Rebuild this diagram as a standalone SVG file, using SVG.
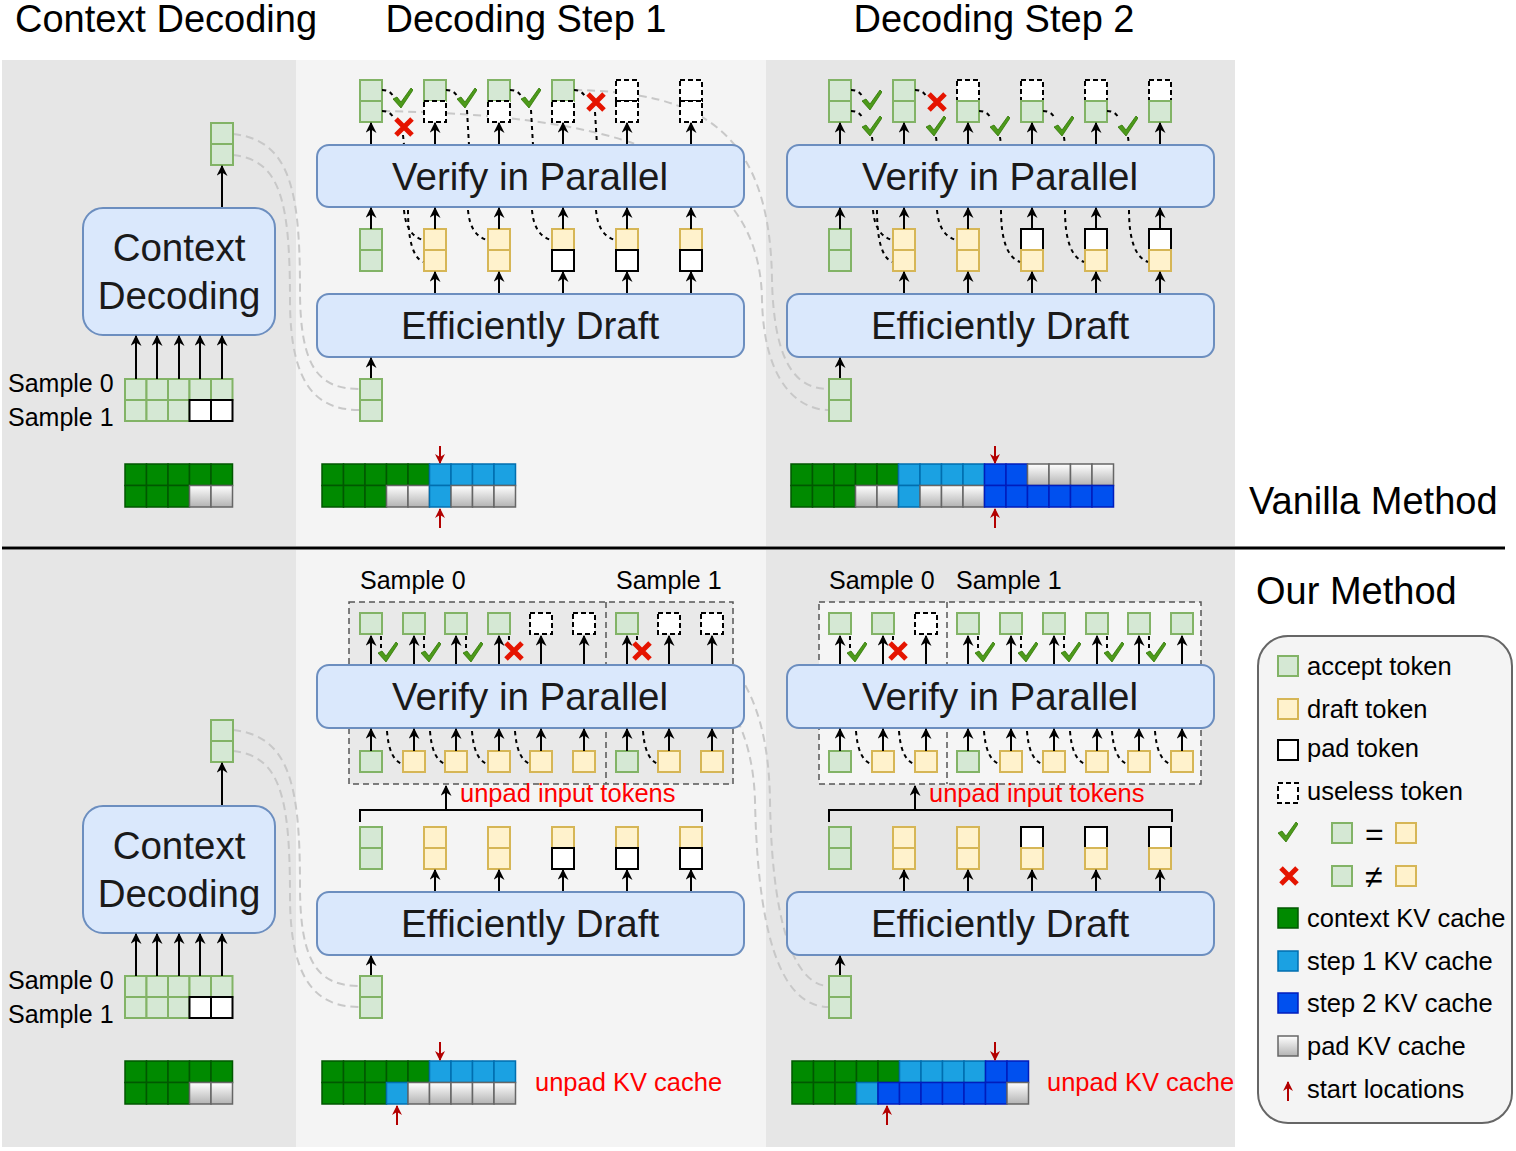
<svg xmlns="http://www.w3.org/2000/svg" xmlns:xlink="http://www.w3.org/1999/xlink" width="1516" height="1151" viewBox="0 0 1516 1151">
<style>
text{font-family:"Liberation Sans",Arial,sans-serif;fill:#000}
.g{fill:#d5e8d4;stroke:#82b366;stroke-width:2}
.y{fill:#fff2cc;stroke:#d6b656;stroke-width:2}
.p{fill:#fff;stroke:#000;stroke-width:2}
.u{fill:#fff;stroke:#000;stroke-width:2;stroke-dasharray:5,3}
.c{fill:#008a00;stroke:#005700;stroke-width:1.5}
.s1{fill:#1ba1e2;stroke:#006eaf;stroke-width:1.5}
.s2{fill:#0050ef;stroke:#001dbc;stroke-width:1.5}
.pk{fill:url(#gr);stroke:#666;stroke-width:1.5}
.box{fill:#dae8fc;stroke:#6c8ebf;stroke-width:2}
.bt{font-size:38.5px;text-anchor:middle;fill:#1a1a1a}
.a{stroke:#000;stroke-width:2;fill:none;marker-end:url(#ah)}
.ra{stroke:#b20000;stroke-width:2;fill:none;marker-end:url(#rh)}
.dd{stroke:#000;stroke-width:2;fill:none;stroke-dasharray:4,4}
.gc{stroke:#c8c8c8;stroke-width:2;fill:none;stroke-dasharray:8,5}
.red{fill:#ff0000}
.sm{font-size:25px}
.lg{font-size:25.5px}
.ti{font-size:38px}
</style>
<defs>
<linearGradient id="gr" x1="0" y1="0" x2="0" y2="1"><stop offset="0" stop-color="#fff"/><stop offset="1" stop-color="#b3b3b3"/></linearGradient>
<marker id="ah" viewBox="0 0 10 10" refX="9" refY="5" markerWidth="11" markerHeight="11" markerUnits="userSpaceOnUse" orient="auto"><path d="M0,0 L10,5 L0,10 L3,5 Z" fill="#000"/></marker>
<marker id="rh" viewBox="0 0 10 10" refX="9" refY="5" markerWidth="10" markerHeight="10" markerUnits="userSpaceOnUse" orient="auto"><path d="M0,0 L10,5 L0,10 L3,5 Z" fill="#b20000"/></marker>
<symbol id="ck" viewBox="0 0 20 20" width="20" height="20"><path d="M0,11 L4,9 L8,14 L18,0 L20,2 L8,20 Z" fill="#4d9a1b" stroke="#2d7600" stroke-width="0.8"/></symbol>
<symbol id="xx" viewBox="0 0 20 20" width="20" height="20"><path d="M2,2 L18,18 M18,2 L2,18" stroke="#e51400" stroke-width="5"/></symbol>
</defs>

<rect x="2" y="60" width="294" height="486" fill="#e6e6e6"/>
<rect x="296" y="60" width="470" height="486" fill="#f4f4f4"/>
<rect x="766" y="60" width="469" height="486" fill="#e6e6e6"/>
<rect x="2" y="550" width="294" height="597" fill="#e6e6e6"/>
<rect x="296" y="550" width="470" height="597" fill="#f4f4f4"/>
<rect x="766" y="550" width="469" height="597" fill="#e6e6e6"/>
<line x1="2" y1="548" x2="1505" y2="548" stroke="#000" stroke-width="3"/>

<text x="166" y="32" class="ti" text-anchor="middle">Context Decoding</text>
<text x="526" y="32" class="ti" text-anchor="middle">Decoding Step 1</text>
<text x="994" y="32" class="ti" text-anchor="middle">Decoding Step 2</text>
<text x="1249" y="514" class="ti">Vanilla Method</text>
<text x="1256" y="604" class="ti">Our Method</text>

<g id="connectors">
<path class="gc" d="M233,134 C290,140 300,190 300,290 C300,370 320,389 360,389"/>
<path class="gc" d="M233,155 C280,160 290,200 290,300 C290,390 320,410 360,410"/>
<path class="gc" d="M382,111 C600,115 760,150 762,300 C764,385 800,410 829,410"/>
<path class="gc" d="M574,90 C700,92 770,130 772,280 C774,370 800,389 829,389"/>
<path class="gc" d="M233,730 C290,736 300,786 300,886 C300,966 320,986 360,986"/>
<path class="gc" d="M233,751 C280,756 290,796 290,896 C290,986 320,1007 360,1007"/>
<path class="gc" d="M510,623 C650,630 750,660 755,800 C758,960 790,1007 829,1007"/>
<path class="gc" d="M638,623 C720,628 768,680 770,800 C772,940 800,986 829,986"/>
</g>

<g id="top-context">
<rect class="g" x="211" y="123" width="22" height="21"/><rect class="g" x="211" y="144" width="22" height="21"/>
<line class="a" x1="222" y1="208" x2="222" y2="166"/>
<rect class="box" x="83" y="208" width="192" height="127" rx="20"/>
<text class="bt" x="179" y="261">Context</text>
<text class="bt" x="179" y="309">Decoding</text>
<text x="8" y="392" class="sm">Sample 0</text>
<text x="8" y="426" class="sm">Sample 1</text>
<rect class="g" x="125" y="379" width="21.5" height="21"/><rect class="g" x="146.5" y="379" width="21.5" height="21"/><rect class="g" x="168" y="379" width="21.5" height="21"/><rect class="g" x="189.5" y="379" width="21.5" height="21"/><rect class="g" x="211" y="379" width="21.5" height="21"/>
<rect class="g" x="125" y="400" width="21.5" height="21"/><rect class="g" x="146.5" y="400" width="21.5" height="21"/><rect class="g" x="168" y="400" width="21.5" height="21"/><rect class="p" x="189.5" y="400" width="21.5" height="21"/><rect class="p" x="211" y="400" width="21.5" height="21"/>
<line class="a" x1="136" y1="379" x2="136" y2="336"/><line class="a" x1="157" y1="379" x2="157" y2="336"/><line class="a" x1="179" y1="379" x2="179" y2="336"/><line class="a" x1="200" y1="379" x2="200" y2="336"/><line class="a" x1="222" y1="379" x2="222" y2="336"/>
<rect class="c" x="125" y="464" width="21.5" height="21.5"/><rect class="c" x="146.5" y="464" width="21.5" height="21.5"/><rect class="c" x="168" y="464" width="21.5" height="21.5"/><rect class="c" x="189.5" y="464" width="21.5" height="21.5"/><rect class="c" x="211" y="464" width="21.5" height="21.5"/>
<rect class="c" x="125" y="485.5" width="21.5" height="21.5"/><rect class="c" x="146.5" y="485.5" width="21.5" height="21.5"/><rect class="c" x="168" y="485.5" width="21.5" height="21.5"/><rect class="pk" x="189.5" y="485.5" width="21.5" height="21.5"/><rect class="pk" x="211" y="485.5" width="21.5" height="21.5"/>
</g>

<g id="top-step1">
<rect class="g" x="360" y="80" width="22" height="21"/><rect class="g" x="360" y="101" width="22" height="21"/>
<rect class="g" x="424" y="80" width="22" height="21"/><rect class="u" x="424" y="101" width="22" height="21"/>
<rect class="g" x="488" y="80" width="22" height="21"/><rect class="u" x="488" y="101" width="22" height="21"/>
<rect class="g" x="552" y="80" width="22" height="21"/><rect class="u" x="552" y="101" width="22" height="21"/>
<rect class="u" x="616" y="80" width="22" height="21"/><rect class="u" x="616" y="101" width="22" height="21"/>
<rect class="u" x="680" y="80" width="22" height="21"/><rect class="u" x="680" y="101" width="22" height="21"/>
<path class="dd" d="M382,90 q8,0 11,6 M382,111 q8,0 11,6 M446,90 q8,0 11,6 M510,90 q8,0 11,6 M574,90 q8,0 12,8 M403,135 L404,145 M467,110 L469,145 M531,110 L533,145 M595,112 L597,145"/>
<use href="#ck" x="393" y="88"/><use href="#ck" x="457" y="88"/><use href="#ck" x="521" y="88"/>
<use href="#xx" x="394" y="117"/><use href="#xx" x="586" y="92"/>
<line class="a" x1="371" y1="145" x2="371" y2="123"/><line class="a" x1="435" y1="145" x2="435" y2="123"/><line class="a" x1="499" y1="145" x2="499" y2="123"/><line class="a" x1="563" y1="145" x2="563" y2="123"/><line class="a" x1="627" y1="145" x2="627" y2="123"/><line class="a" x1="691" y1="145" x2="691" y2="123"/>
<rect class="box" x="317" y="145" width="427" height="62" rx="12"/>
<text class="bt" x="530" y="190">Verify in Parallel</text>
<rect class="g" x="360" y="229" width="22" height="21"/><rect class="g" x="360" y="250" width="22" height="21"/>
<rect class="y" x="424" y="229" width="22" height="21"/><rect class="y" x="424" y="250" width="22" height="21"/>
<rect class="y" x="488" y="229" width="22" height="21"/><rect class="y" x="488" y="250" width="22" height="21"/>
<rect class="y" x="552" y="229" width="22" height="21"/><rect class="p" x="552" y="250" width="22" height="21"/>
<rect class="y" x="616" y="229" width="22" height="21"/><rect class="p" x="616" y="250" width="22" height="21"/>
<rect class="y" x="680" y="229" width="22" height="21"/><rect class="p" x="680" y="250" width="22" height="21"/>
<path class="dd" d="M404,210 q2,25 19,30 M408,210 q0,45 15,52 M468,210 q2,25 19,30 M532,210 q2,25 19,30 M596,210 q2,25 19,30"/>
<line class="a" x1="371" y1="229" x2="371" y2="208"/><line class="a" x1="435" y1="229" x2="435" y2="208"/><line class="a" x1="499" y1="229" x2="499" y2="208"/><line class="a" x1="563" y1="229" x2="563" y2="208"/><line class="a" x1="627" y1="229" x2="627" y2="208"/><line class="a" x1="691" y1="229" x2="691" y2="208"/>
<line class="a" x1="435" y1="294" x2="435" y2="272"/><line class="a" x1="499" y1="294" x2="499" y2="272"/><line class="a" x1="563" y1="294" x2="563" y2="272"/><line class="a" x1="627" y1="294" x2="627" y2="272"/><line class="a" x1="691" y1="294" x2="691" y2="272"/>
<rect class="box" x="317" y="294" width="427" height="63" rx="12"/>
<text class="bt" x="530" y="339">Efficiently Draft</text>
<line class="a" x1="371" y1="379" x2="371" y2="358"/>
<rect class="g" x="360" y="379" width="22" height="21"/><rect class="g" x="360" y="400" width="22" height="21"/>
<rect class="c" x="322" y="464" width="21.5" height="21.5"/><rect class="c" x="343.5" y="464" width="21.5" height="21.5"/><rect class="c" x="365" y="464" width="21.5" height="21.5"/><rect class="c" x="386.5" y="464" width="21.5" height="21.5"/><rect class="c" x="408" y="464" width="21.5" height="21.5"/><rect class="s1" x="429.5" y="464" width="21.5" height="21.5"/><rect class="s1" x="451" y="464" width="21.5" height="21.5"/><rect class="s1" x="472.5" y="464" width="21.5" height="21.5"/><rect class="s1" x="494" y="464" width="21.5" height="21.5"/>
<rect class="c" x="322" y="485.5" width="21.5" height="21.5"/><rect class="c" x="343.5" y="485.5" width="21.5" height="21.5"/><rect class="c" x="365" y="485.5" width="21.5" height="21.5"/><rect class="pk" x="386.5" y="485.5" width="21.5" height="21.5"/><rect class="pk" x="408" y="485.5" width="21.5" height="21.5"/><rect class="s1" x="429.5" y="485.5" width="21.5" height="21.5"/><rect class="pk" x="451" y="485.5" width="21.5" height="21.5"/><rect class="pk" x="472.5" y="485.5" width="21.5" height="21.5"/><rect class="pk" x="494" y="485.5" width="21.5" height="21.5"/>
<line class="ra" x1="440" y1="446" x2="440" y2="463"/><line class="ra" x1="440" y1="528" x2="440" y2="509"/>
</g>

<g id="top-step2">
<rect class="g" x="829" y="80" width="22" height="21"/><rect class="g" x="829" y="101" width="22" height="21"/>
<rect class="g" x="893" y="80" width="22" height="21"/><rect class="g" x="893" y="101" width="22" height="21"/>
<rect class="u" x="957" y="80" width="22" height="21"/><rect class="g" x="957" y="101" width="22" height="21"/>
<rect class="u" x="1021" y="80" width="22" height="21"/><rect class="g" x="1021" y="101" width="22" height="21"/>
<rect class="u" x="1085" y="80" width="22" height="21"/><rect class="g" x="1085" y="101" width="22" height="21"/>
<rect class="u" x="1149" y="80" width="22" height="21"/><rect class="g" x="1149" y="101" width="22" height="21"/>
<path class="dd" d="M851,90 q8,0 11,6 M851,111 q8,0 11,6 M915,90 q8,0 11,6 M979,111 q8,0 11,6 M1043,111 q8,0 11,6 M1107,111 q8,0 11,6 M872,137 L873,145 M936,137 L937,145 M1000,137 L1001,145 M1064,137 L1065,145 M1128,137 L1129,145"/>
<use href="#ck" x="862" y="90"/><use href="#ck" x="862" y="116"/><use href="#ck" x="926" y="116"/><use href="#ck" x="990" y="116"/><use href="#ck" x="1054" y="116"/><use href="#ck" x="1118" y="116"/>
<use href="#xx" x="927" y="92"/>
<line class="a" x1="840" y1="145" x2="840" y2="123"/><line class="a" x1="904" y1="145" x2="904" y2="123"/><line class="a" x1="968" y1="145" x2="968" y2="123"/><line class="a" x1="1032" y1="145" x2="1032" y2="123"/><line class="a" x1="1096" y1="145" x2="1096" y2="123"/><line class="a" x1="1160" y1="145" x2="1160" y2="123"/>
<rect class="box" x="787" y="145" width="427" height="62" rx="12"/>
<text class="bt" x="1000" y="190">Verify in Parallel</text>
<rect class="g" x="829" y="229" width="22" height="21"/><rect class="g" x="829" y="250" width="22" height="21"/>
<rect class="y" x="893" y="229" width="22" height="21"/><rect class="y" x="893" y="250" width="22" height="21"/>
<rect class="y" x="957" y="229" width="22" height="21"/><rect class="y" x="957" y="250" width="22" height="21"/>
<rect class="p" x="1021" y="229" width="22" height="21"/><rect class="y" x="1021" y="250" width="22" height="21"/>
<rect class="p" x="1085" y="229" width="22" height="21"/><rect class="y" x="1085" y="250" width="22" height="21"/>
<rect class="p" x="1149" y="229" width="22" height="21"/><rect class="y" x="1149" y="250" width="22" height="21"/>
<path class="dd" d="M873,210 q2,25 19,30 M877,210 q0,45 15,52 M937,210 q2,25 19,30 M1001,210 q0,45 19,52 M1065,210 q0,45 19,52 M1129,210 q0,45 19,52"/>
<line class="a" x1="840" y1="229" x2="840" y2="208"/><line class="a" x1="904" y1="229" x2="904" y2="208"/><line class="a" x1="968" y1="229" x2="968" y2="208"/><line class="a" x1="1032" y1="229" x2="1032" y2="208"/><line class="a" x1="1096" y1="229" x2="1096" y2="208"/><line class="a" x1="1160" y1="229" x2="1160" y2="208"/>
<line class="a" x1="904" y1="294" x2="904" y2="272"/><line class="a" x1="968" y1="294" x2="968" y2="272"/><line class="a" x1="1032" y1="294" x2="1032" y2="272"/><line class="a" x1="1096" y1="294" x2="1096" y2="272"/><line class="a" x1="1160" y1="294" x2="1160" y2="272"/>
<rect class="box" x="787" y="294" width="427" height="63" rx="12"/>
<text class="bt" x="1000" y="339">Efficiently Draft</text>
<line class="a" x1="840" y1="379" x2="840" y2="358"/>
<rect class="g" x="829" y="379" width="22" height="21"/><rect class="g" x="829" y="400" width="22" height="21"/>
<rect class="c" x="791" y="464" width="21.5" height="21.5"/><rect class="c" x="812.5" y="464" width="21.5" height="21.5"/><rect class="c" x="834" y="464" width="21.5" height="21.5"/><rect class="c" x="855.5" y="464" width="21.5" height="21.5"/><rect class="c" x="877" y="464" width="21.5" height="21.5"/><rect class="s1" x="898.5" y="464" width="21.5" height="21.5"/><rect class="s1" x="920" y="464" width="21.5" height="21.5"/><rect class="s1" x="941.5" y="464" width="21.5" height="21.5"/><rect class="s1" x="963" y="464" width="21.5" height="21.5"/><rect class="s2" x="984.5" y="464" width="21.5" height="21.5"/><rect class="s2" x="1006" y="464" width="21.5" height="21.5"/><rect class="pk" x="1027.5" y="464" width="21.5" height="21.5"/><rect class="pk" x="1049" y="464" width="21.5" height="21.5"/><rect class="pk" x="1070.5" y="464" width="21.5" height="21.5"/><rect class="pk" x="1092" y="464" width="21.5" height="21.5"/>
<rect class="c" x="791" y="485.5" width="21.5" height="21.5"/><rect class="c" x="812.5" y="485.5" width="21.5" height="21.5"/><rect class="c" x="834" y="485.5" width="21.5" height="21.5"/><rect class="pk" x="855.5" y="485.5" width="21.5" height="21.5"/><rect class="pk" x="877" y="485.5" width="21.5" height="21.5"/><rect class="s1" x="898.5" y="485.5" width="21.5" height="21.5"/><rect class="pk" x="920" y="485.5" width="21.5" height="21.5"/><rect class="pk" x="941.5" y="485.5" width="21.5" height="21.5"/><rect class="pk" x="963" y="485.5" width="21.5" height="21.5"/><rect class="s2" x="984.5" y="485.5" width="21.5" height="21.5"/><rect class="s2" x="1006" y="485.5" width="21.5" height="21.5"/><rect class="s2" x="1027.5" y="485.5" width="21.5" height="21.5"/><rect class="s2" x="1049" y="485.5" width="21.5" height="21.5"/><rect class="s2" x="1070.5" y="485.5" width="21.5" height="21.5"/><rect class="s2" x="1092" y="485.5" width="21.5" height="21.5"/>
<line class="ra" x1="995" y1="446" x2="995" y2="463"/><line class="ra" x1="995" y1="528" x2="995" y2="509"/>
</g>

<g id="bot-context">
<rect class="g" x="211" y="720" width="22" height="21"/><rect class="g" x="211" y="741" width="22" height="21"/>
<line class="a" x1="222" y1="806" x2="222" y2="763"/>
<rect class="box" x="83" y="806" width="192" height="127" rx="20"/>
<text class="bt" x="179" y="859">Context</text>
<text class="bt" x="179" y="907">Decoding</text>
<text x="8" y="989" class="sm">Sample 0</text>
<text x="8" y="1023" class="sm">Sample 1</text>
<rect class="g" x="125" y="976" width="21.5" height="21"/><rect class="g" x="146.5" y="976" width="21.5" height="21"/><rect class="g" x="168" y="976" width="21.5" height="21"/><rect class="g" x="189.5" y="976" width="21.5" height="21"/><rect class="g" x="211" y="976" width="21.5" height="21"/>
<rect class="g" x="125" y="997" width="21.5" height="21"/><rect class="g" x="146.5" y="997" width="21.5" height="21"/><rect class="g" x="168" y="997" width="21.5" height="21"/><rect class="p" x="189.5" y="997" width="21.5" height="21"/><rect class="p" x="211" y="997" width="21.5" height="21"/>
<line class="a" x1="136" y1="976" x2="136" y2="934"/><line class="a" x1="157" y1="976" x2="157" y2="934"/><line class="a" x1="179" y1="976" x2="179" y2="934"/><line class="a" x1="200" y1="976" x2="200" y2="934"/><line class="a" x1="222" y1="976" x2="222" y2="934"/>
<rect class="c" x="125" y="1061" width="21.5" height="21.5"/><rect class="c" x="146.5" y="1061" width="21.5" height="21.5"/><rect class="c" x="168" y="1061" width="21.5" height="21.5"/><rect class="c" x="189.5" y="1061" width="21.5" height="21.5"/><rect class="c" x="211" y="1061" width="21.5" height="21.5"/>
<rect class="c" x="125" y="1082.5" width="21.5" height="21.5"/><rect class="c" x="146.5" y="1082.5" width="21.5" height="21.5"/><rect class="c" x="168" y="1082.5" width="21.5" height="21.5"/><rect class="pk" x="189.5" y="1082.5" width="21.5" height="21.5"/><rect class="pk" x="211" y="1082.5" width="21.5" height="21.5"/>
</g>

<g id="bot-step1">
<text x="360" y="589" class="sm">Sample 0</text>
<text x="616" y="589" class="sm">Sample 1</text>
<rect x="349" y="602" width="384" height="182" fill="#e9e9e9" stroke="#555" stroke-width="1.5" stroke-dasharray="6,4"/>
<line x1="606" y1="602" x2="606" y2="784" stroke="#555" stroke-width="1.5" stroke-dasharray="6,4"/>
<rect class="g" x="360" y="613" width="22" height="21"/><rect class="g" x="403" y="613" width="22" height="21"/><rect class="g" x="445" y="613" width="22" height="21"/><rect class="g" x="488" y="613" width="22" height="21"/><rect class="u" x="530" y="613" width="22" height="21"/><rect class="u" x="573" y="613" width="22" height="21"/>
<rect class="g" x="616" y="613" width="22" height="21"/><rect class="u" x="658" y="613" width="22" height="21"/><rect class="u" x="701" y="613" width="22" height="21"/>
<path class="dd" d="M381,636 L381,648 M424,636 L424,648 M466,636 L466,648 M509,636 L509,648 M637,636 L637,648"/>
<use href="#ck" x="378" y="642"/><use href="#ck" x="421" y="642"/><use href="#ck" x="463" y="642"/>
<use href="#xx" x="504" y="641"/><use href="#xx" x="632" y="641"/>
<line class="a" x1="371" y1="665" x2="371" y2="636"/><line class="a" x1="414" y1="665" x2="414" y2="636"/><line class="a" x1="456" y1="665" x2="456" y2="636"/><line class="a" x1="499" y1="665" x2="499" y2="636"/><line class="a" x1="541" y1="665" x2="541" y2="636"/><line class="a" x1="584" y1="665" x2="584" y2="636"/><line class="a" x1="627" y1="665" x2="627" y2="636"/><line class="a" x1="669" y1="665" x2="669" y2="636"/><line class="a" x1="712" y1="665" x2="712" y2="636"/>
<rect class="box" x="317" y="665" width="427" height="63" rx="12"/>
<text class="bt" x="530" y="710">Verify in Parallel</text>
<rect class="g" x="360" y="751" width="22" height="21"/><rect class="y" x="403" y="751" width="22" height="21"/><rect class="y" x="445" y="751" width="22" height="21"/><rect class="y" x="488" y="751" width="22" height="21"/><rect class="y" x="530" y="751" width="22" height="21"/><rect class="y" x="573" y="751" width="22" height="21"/>
<rect class="g" x="616" y="751" width="22" height="21"/><rect class="y" x="658" y="751" width="22" height="21"/><rect class="y" x="701" y="751" width="22" height="21"/>
<path class="dd" d="M387,731 q2,28 15,33 M430,731 q2,28 15,33 M472,731 q2,28 15,33 M515,731 q2,28 15,33 M643,731 q2,28 15,33"/>
<line class="a" x1="371" y1="751" x2="371" y2="729"/><line class="a" x1="414" y1="751" x2="414" y2="729"/><line class="a" x1="456" y1="751" x2="456" y2="729"/><line class="a" x1="499" y1="751" x2="499" y2="729"/><line class="a" x1="541" y1="751" x2="541" y2="729"/><line class="a" x1="584" y1="751" x2="584" y2="729"/><line class="a" x1="627" y1="751" x2="627" y2="729"/><line class="a" x1="669" y1="751" x2="669" y2="729"/><line class="a" x1="712" y1="751" x2="712" y2="729"/>
<path d="M360,822 V810 H702 V822" stroke="#000" stroke-width="2" fill="none"/>
<line class="a" x1="446" y1="810" x2="446" y2="786"/>
<text class="red lg" x="460" y="802">unpad input tokens</text>
<rect class="g" x="360" y="827" width="22" height="21"/><rect class="g" x="360" y="848" width="22" height="21"/>
<rect class="y" x="424" y="827" width="22" height="21"/><rect class="y" x="424" y="848" width="22" height="21"/>
<rect class="y" x="488" y="827" width="22" height="21"/><rect class="y" x="488" y="848" width="22" height="21"/>
<rect class="y" x="552" y="827" width="22" height="21"/><rect class="p" x="552" y="848" width="22" height="21"/>
<rect class="y" x="616" y="827" width="22" height="21"/><rect class="p" x="616" y="848" width="22" height="21"/>
<rect class="y" x="680" y="827" width="22" height="21"/><rect class="p" x="680" y="848" width="22" height="21"/>
<line class="a" x1="435" y1="892" x2="435" y2="870"/><line class="a" x1="499" y1="892" x2="499" y2="870"/><line class="a" x1="563" y1="892" x2="563" y2="870"/><line class="a" x1="627" y1="892" x2="627" y2="870"/><line class="a" x1="691" y1="892" x2="691" y2="870"/>
<rect class="box" x="317" y="892" width="427" height="63" rx="12"/>
<text class="bt" x="530" y="937">Efficiently Draft</text>
<line class="a" x1="371" y1="976" x2="371" y2="956"/>
<rect class="g" x="360" y="976" width="22" height="21"/><rect class="g" x="360" y="997" width="22" height="21"/>
<rect class="c" x="322" y="1061" width="21.5" height="21.5"/><rect class="c" x="343.5" y="1061" width="21.5" height="21.5"/><rect class="c" x="365" y="1061" width="21.5" height="21.5"/><rect class="c" x="386.5" y="1061" width="21.5" height="21.5"/><rect class="c" x="408" y="1061" width="21.5" height="21.5"/><rect class="s1" x="429.5" y="1061" width="21.5" height="21.5"/><rect class="s1" x="451" y="1061" width="21.5" height="21.5"/><rect class="s1" x="472.5" y="1061" width="21.5" height="21.5"/><rect class="s1" x="494" y="1061" width="21.5" height="21.5"/>
<rect class="c" x="322" y="1082.5" width="21.5" height="21.5"/><rect class="c" x="343.5" y="1082.5" width="21.5" height="21.5"/><rect class="c" x="365" y="1082.5" width="21.5" height="21.5"/><rect class="s1" x="386.5" y="1082.5" width="21.5" height="21.5"/><rect class="pk" x="408" y="1082.5" width="21.5" height="21.5"/><rect class="pk" x="429.5" y="1082.5" width="21.5" height="21.5"/><rect class="pk" x="451" y="1082.5" width="21.5" height="21.5"/><rect class="pk" x="472.5" y="1082.5" width="21.5" height="21.5"/><rect class="pk" x="494" y="1082.5" width="21.5" height="21.5"/>
<line class="ra" x1="440" y1="1042" x2="440" y2="1060"/><line class="ra" x1="397" y1="1125" x2="397" y2="1106"/>
<text class="red lg" x="535" y="1091">unpad KV cache</text>
</g>

<g id="bot-step2">
<text x="829" y="589" class="sm">Sample 0</text>
<text x="956" y="589" class="sm">Sample 1</text>
<rect x="819" y="602" width="382" height="182" fill="#f5f5f5" stroke="#555" stroke-width="1.5" stroke-dasharray="6,4"/>
<line x1="947" y1="602" x2="947" y2="784" stroke="#555" stroke-width="1.5" stroke-dasharray="6,4"/>
<rect class="g" x="829" y="613" width="22" height="21"/><rect class="g" x="872" y="613" width="22" height="21"/><rect class="u" x="915" y="613" width="22" height="21"/>
<rect class="g" x="957" y="613" width="22" height="21"/><rect class="g" x="1000" y="613" width="22" height="21"/><rect class="g" x="1043" y="613" width="22" height="21"/><rect class="g" x="1086" y="613" width="22" height="21"/><rect class="g" x="1128" y="613" width="22" height="21"/><rect class="g" x="1171" y="613" width="22" height="21"/>
<path class="dd" d="M850,636 L850,648 M893,636 L893,648 M978,636 L978,648 M1021,636 L1021,648 M1064,636 L1064,648 M1107,636 L1107,648 M1149,636 L1149,648"/>
<use href="#ck" x="847" y="642"/><use href="#ck" x="975" y="642"/><use href="#ck" x="1018" y="642"/><use href="#ck" x="1061" y="642"/><use href="#ck" x="1104" y="642"/><use href="#ck" x="1146" y="642"/>
<use href="#xx" x="888" y="641"/>
<line class="a" x1="840" y1="665" x2="840" y2="636"/><line class="a" x1="883" y1="665" x2="883" y2="636"/><line class="a" x1="926" y1="665" x2="926" y2="636"/><line class="a" x1="968" y1="665" x2="968" y2="636"/><line class="a" x1="1011" y1="665" x2="1011" y2="636"/><line class="a" x1="1054" y1="665" x2="1054" y2="636"/><line class="a" x1="1097" y1="665" x2="1097" y2="636"/><line class="a" x1="1139" y1="665" x2="1139" y2="636"/><line class="a" x1="1182" y1="665" x2="1182" y2="636"/>
<rect class="box" x="787" y="665" width="427" height="63" rx="12"/>
<text class="bt" x="1000" y="710">Verify in Parallel</text>
<rect class="g" x="829" y="751" width="22" height="21"/><rect class="y" x="872" y="751" width="22" height="21"/><rect class="y" x="915" y="751" width="22" height="21"/>
<rect class="g" x="957" y="751" width="22" height="21"/><rect class="y" x="1000" y="751" width="22" height="21"/><rect class="y" x="1043" y="751" width="22" height="21"/><rect class="y" x="1086" y="751" width="22" height="21"/><rect class="y" x="1128" y="751" width="22" height="21"/><rect class="y" x="1171" y="751" width="22" height="21"/>
<path class="dd" d="M856,731 q2,28 15,33 M899,731 q2,28 15,33 M984,731 q2,28 15,33 M1027,731 q2,28 15,33 M1070,731 q2,28 15,33 M1112,731 q2,28 15,33 M1155,731 q2,28 15,33"/>
<line class="a" x1="840" y1="751" x2="840" y2="729"/><line class="a" x1="883" y1="751" x2="883" y2="729"/><line class="a" x1="926" y1="751" x2="926" y2="729"/><line class="a" x1="968" y1="751" x2="968" y2="729"/><line class="a" x1="1011" y1="751" x2="1011" y2="729"/><line class="a" x1="1054" y1="751" x2="1054" y2="729"/><line class="a" x1="1097" y1="751" x2="1097" y2="729"/><line class="a" x1="1139" y1="751" x2="1139" y2="729"/><line class="a" x1="1182" y1="751" x2="1182" y2="729"/>
<path d="M829,822 V810 H1172 V822" stroke="#000" stroke-width="2" fill="none"/>
<line class="a" x1="915" y1="810" x2="915" y2="786"/>
<text class="red lg" x="929" y="802">unpad input tokens</text>
<rect class="g" x="829" y="827" width="22" height="21"/><rect class="g" x="829" y="848" width="22" height="21"/>
<rect class="y" x="893" y="827" width="22" height="21"/><rect class="y" x="893" y="848" width="22" height="21"/>
<rect class="y" x="957" y="827" width="22" height="21"/><rect class="y" x="957" y="848" width="22" height="21"/>
<rect class="p" x="1021" y="827" width="22" height="21"/><rect class="y" x="1021" y="848" width="22" height="21"/>
<rect class="p" x="1085" y="827" width="22" height="21"/><rect class="y" x="1085" y="848" width="22" height="21"/>
<rect class="p" x="1149" y="827" width="22" height="21"/><rect class="y" x="1149" y="848" width="22" height="21"/>
<line class="a" x1="904" y1="892" x2="904" y2="870"/><line class="a" x1="968" y1="892" x2="968" y2="870"/><line class="a" x1="1032" y1="892" x2="1032" y2="870"/><line class="a" x1="1096" y1="892" x2="1096" y2="870"/><line class="a" x1="1160" y1="892" x2="1160" y2="870"/>
<rect class="box" x="787" y="892" width="427" height="63" rx="12"/>
<text class="bt" x="1000" y="937">Efficiently Draft</text>
<line class="a" x1="840" y1="976" x2="840" y2="956"/>
<rect class="g" x="829" y="976" width="22" height="21"/><rect class="g" x="829" y="997" width="22" height="21"/>
<rect class="c" x="792" y="1061" width="21.5" height="21.5"/><rect class="c" x="813.5" y="1061" width="21.5" height="21.5"/><rect class="c" x="835" y="1061" width="21.5" height="21.5"/><rect class="c" x="856.5" y="1061" width="21.5" height="21.5"/><rect class="c" x="878" y="1061" width="21.5" height="21.5"/><rect class="s1" x="899.5" y="1061" width="21.5" height="21.5"/><rect class="s1" x="921" y="1061" width="21.5" height="21.5"/><rect class="s1" x="942.5" y="1061" width="21.5" height="21.5"/><rect class="s1" x="964" y="1061" width="21.5" height="21.5"/><rect class="s2" x="985.5" y="1061" width="21.5" height="21.5"/><rect class="s2" x="1007" y="1061" width="21.5" height="21.5"/>
<rect class="c" x="792" y="1082.5" width="21.5" height="21.5"/><rect class="c" x="813.5" y="1082.5" width="21.5" height="21.5"/><rect class="c" x="835" y="1082.5" width="21.5" height="21.5"/><rect class="s1" x="856.5" y="1082.5" width="21.5" height="21.5"/><rect class="s2" x="878" y="1082.5" width="21.5" height="21.5"/><rect class="s2" x="899.5" y="1082.5" width="21.5" height="21.5"/><rect class="s2" x="921" y="1082.5" width="21.5" height="21.5"/><rect class="s2" x="942.5" y="1082.5" width="21.5" height="21.5"/><rect class="s2" x="964" y="1082.5" width="21.5" height="21.5"/><rect class="s2" x="985.5" y="1082.5" width="21.5" height="21.5"/><rect class="pk" x="1007" y="1082.5" width="21.5" height="21.5"/>
<line class="ra" x1="995" y1="1042" x2="995" y2="1060"/><line class="ra" x1="887" y1="1125" x2="887" y2="1106"/>
<text class="red lg" x="1047" y="1091">unpad KV cache</text>
</g>

<g id="legend">
<rect x="1258" y="636" width="254" height="487" rx="30" fill="#f4f4f4" stroke="#666" stroke-width="2"/>
<rect class="g" x="1278" y="656" width="20" height="20"/><text x="1307" y="675" class="lg">accept token</text>
<rect class="y" x="1278" y="699" width="20" height="20"/><text x="1307" y="718" class="lg">draft token</text>
<rect class="p" x="1278" y="740" width="20" height="20"/><text x="1307" y="757" class="lg">pad token</text>
<rect class="u" x="1278" y="783" width="20" height="20"/><text x="1307" y="800" class="lg">useless token</text>
<use href="#ck" x="1278" y="822"/><rect class="g" x="1332" y="823" width="20" height="20"/><text x="1365" y="845" font-size="32">=</text><rect class="y" x="1396" y="823" width="20" height="20"/>
<use href="#xx" x="1279" y="866"/><rect class="g" x="1332" y="866" width="20" height="20"/><text x="1365" y="888" font-size="32">≠</text><rect class="y" x="1396" y="866" width="20" height="20"/>
<rect class="c" x="1278" y="908" width="20" height="20"/><text x="1307" y="927" class="lg">context KV cache</text>
<rect class="s1" x="1278" y="951" width="20" height="20"/><text x="1307" y="970" class="lg">step 1 KV cache</text>
<rect class="s2" x="1278" y="993" width="20" height="20"/><text x="1307" y="1012" class="lg">step 2 KV cache</text>
<rect class="pk" x="1278" y="1036" width="20" height="20"/><text x="1307" y="1055" class="lg">pad KV cache</text>
<line class="ra" x1="1288" y1="1101" x2="1288" y2="1082"/><text x="1307" y="1098" class="lg">start locations</text>
</g>
</svg>
